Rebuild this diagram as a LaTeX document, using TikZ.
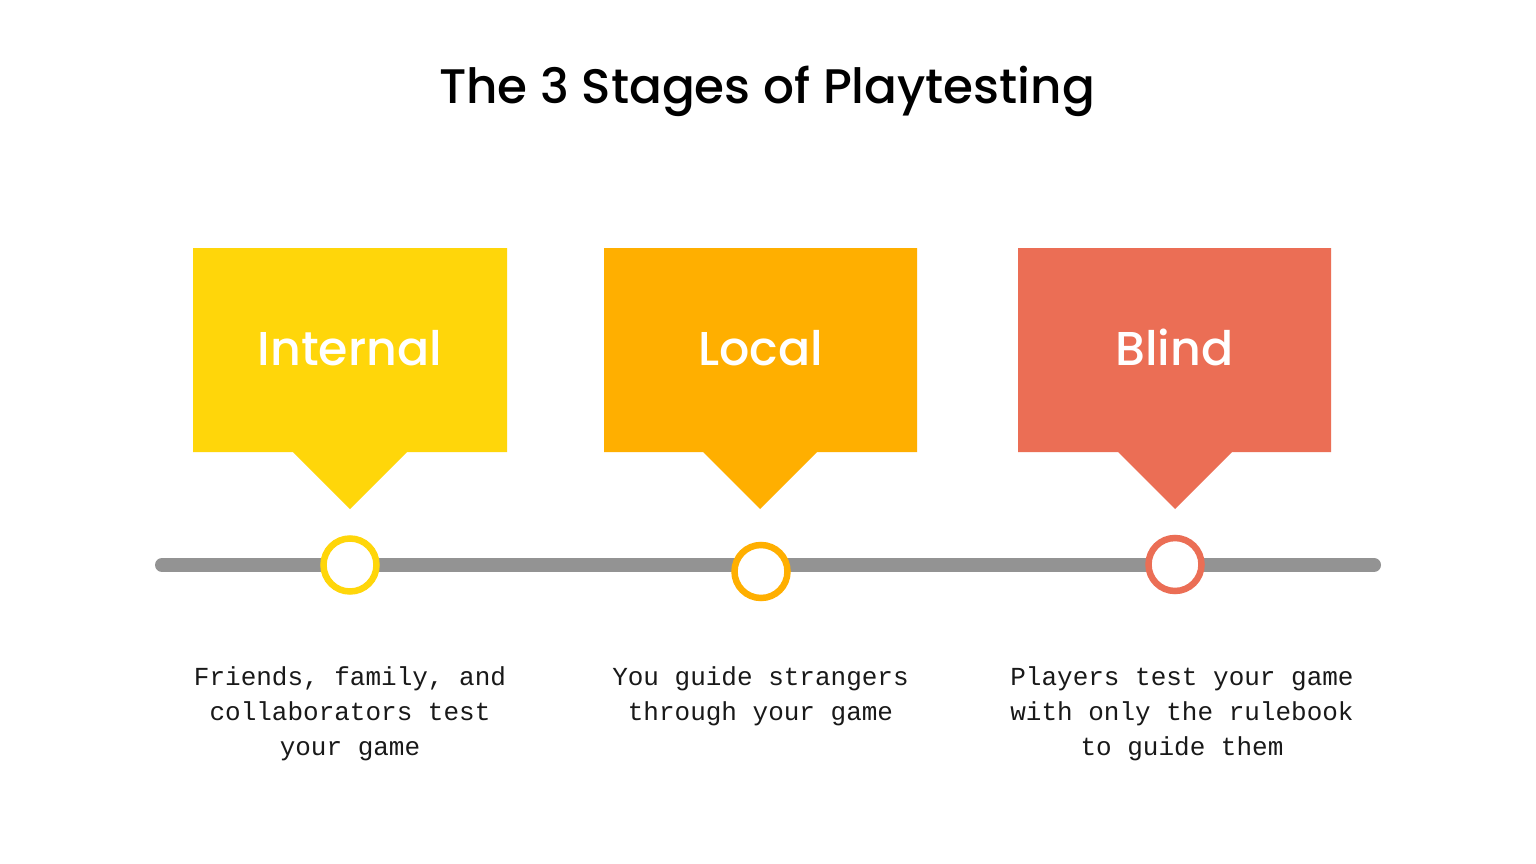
\documentclass[tikz,border=0pt]{standalone}
\usepackage{fontspec}
\setmainfont{Poppins}
\newfontfamily\titlefont{Poppins Medium}
\newfontfamily\monofont{Liberation Mono}
\definecolor{cyel}{HTML}{FFD60A}
\definecolor{corg}{HTML}{FFAF00}
\definecolor{ccor}{HTML}{EB6E55}
\definecolor{cgray}{HTML}{939393}
\tikzset{
  stagelabel/.style={text=white, font=\titlefont\fontsize{47.5}{56}\selectfont, inner sep=0pt, anchor=base},
  ringnode/.style={circle, draw=#1, line width=6.5pt, fill=white, minimum size=53pt, inner sep=0pt},
  desc/.style={font=\monofont\fontsize{26}{35}\selectfont, align=center, anchor=north, inner sep=0pt, text=black!90},
}
\begin{document}
\begin{tikzpicture}[x=1pt,y=-1pt]
\useasboundingbox (0,0) rectangle (1536,864);
\fill[white] (0,0) rectangle (1536,864);
\node[font=\titlefont\fontsize{48.5}{58}\selectfont, anchor=base, inner sep=0pt] (title) at (767,104) {The 3 Stages of Playtesting};
% timeline
\coordinate (lstart) at (162,565);
\coordinate (lend) at (1374,565);
\draw[cgray, line width=14pt, line cap=round] (lstart) -- (lend);
% callouts
\fill[cyel] (193,248) -- (507,248) -- (507,452) -- (407,452) -- (350,509) -- (293,452) -- (193,452) -- cycle;
\fill[corg] (604,248) -- (917,248) -- (917,452) -- (817,452) -- (760,509) -- (703,452) -- (604,452) -- cycle;
\fill[ccor] (1018,248) -- (1331,248) -- (1331,452) -- (1232,452) -- (1175,509) -- (1118,452) -- (1018,452) -- cycle;
\node[stagelabel] (l1) at (350,365) {Internal};
\node[stagelabel] (l2) at (760.5,365) {Local};
\node[stagelabel] (l3) at (1174.5,365) {Blind};
% rings
\node[ringnode=cyel] (r1) at (350,565) {};
\node[ringnode=corg] (r2) at (761,571.5) {};
\node[ringnode=ccor] (r3) at (1175,564.5) {};
% descriptions
\node[desc] (d1) at (350,666) {Friends, family, and\\collaborators test\\your game};
\node[desc] (d2) at (760.5,666) {You guide strangers\\through your game};
\node[desc] (d3) at (1182,666) {Players test your game\\with only the rulebook\\to guide them};
\end{tikzpicture}
\end{document}
